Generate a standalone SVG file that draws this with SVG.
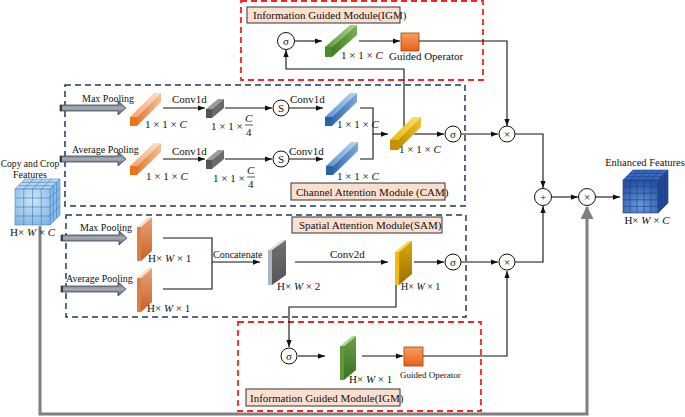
<svg xmlns="http://www.w3.org/2000/svg" width="685" height="417" viewBox="0 0 685 417">
<defs>
<style>
text{font-family:"Liberation Serif","Times New Roman",serif;fill:#111;}
.t10{font-size:10px;}
.t11{font-size:11px;}
.t9{font-size:9px;}
.m{font-size:11px;}
.i{font-style:italic;}
.ln{fill:none;stroke:#111;stroke-width:1.1;}
.arr{fill:none;stroke:#111;stroke-width:1.1;marker-end:url(#ah);}
.circ{fill:#fff;stroke:#111;stroke-width:1;}
.navy{fill:none;stroke:#1f3a60;stroke-width:1.5;stroke-dasharray:6,4;}
.red{fill:none;stroke:#ff2020;stroke-width:1.8;stroke-dasharray:6,4;}
.lbl{fill:#fbe0cf;stroke:#333;stroke-width:1;}
.grid{stroke:#3a78c0;stroke-width:0.6;fill:none;}
.grid2{stroke:#1c3f80;stroke-width:0.6;fill:none;}
</style>
<marker id="ah" viewBox="0 0 8 6" refX="8" refY="3" markerWidth="7" markerHeight="5.5" markerUnits="userSpaceOnUse" orient="auto">
<path d="M0,0 L8,3 L0,6 z" fill="#111"/>
</marker>
<marker id="gh" viewBox="0 0 12 12" refX="11" refY="6" markerWidth="14" markerHeight="13" markerUnits="userSpaceOnUse" orient="auto">
<path d="M0,0 L12,6 L0,12 z" fill="#7f7f7f"/>
</marker>
<linearGradient id="pool" x1="0" y1="0" x2="0" y2="1">
<stop offset="0" stop-color="#4a5566"/>
<stop offset="0.5" stop-color="#a8adb4"/>
<stop offset="1" stop-color="#4a5566"/>
</linearGradient>
<linearGradient id="orTop" x1="0" y1="1" x2="1" y2="0"><stop offset="0" stop-color="#f2a46a"/><stop offset="1" stop-color="#fbe2d0"/></linearGradient>
<linearGradient id="orSide" x1="0" y1="0" x2="1" y2="0"><stop offset="0" stop-color="#e07a30"/><stop offset="1" stop-color="#f5c09a"/></linearGradient>
<linearGradient id="blTop" x1="0" y1="1" x2="1" y2="0"><stop offset="0" stop-color="#5b95d0"/><stop offset="1" stop-color="#b8d4ee"/></linearGradient>
<linearGradient id="blSide" x1="0" y1="0" x2="1" y2="0"><stop offset="0" stop-color="#2f6aae"/><stop offset="1" stop-color="#7ea8d8"/></linearGradient>
<linearGradient id="ylTop" x1="0" y1="1" x2="1" y2="0"><stop offset="0" stop-color="#e8b800"/><stop offset="1" stop-color="#f8e070"/></linearGradient>
<linearGradient id="ylSide" x1="0" y1="0" x2="1" y2="0"><stop offset="0" stop-color="#c09000"/><stop offset="1" stop-color="#e8c030"/></linearGradient>
<linearGradient id="gnTop" x1="0" y1="1" x2="1" y2="0"><stop offset="0" stop-color="#5c9a38"/><stop offset="1" stop-color="#a8d488"/></linearGradient>
<linearGradient id="gnSide" x1="0" y1="0" x2="1" y2="0"><stop offset="0" stop-color="#3f7a25"/><stop offset="1" stop-color="#78b055"/></linearGradient>
<linearGradient id="orPlate" x1="0" y1="0" x2="0" y2="1"><stop offset="0" stop-color="#e8a478"/><stop offset="1" stop-color="#c8602a"/></linearGradient>
<linearGradient id="gyPlate" x1="0" y1="0" x2="0" y2="1"><stop offset="0" stop-color="#707070"/><stop offset="1" stop-color="#555"/></linearGradient>
<linearGradient id="ylPlate" x1="0" y1="0" x2="0" y2="1"><stop offset="0" stop-color="#d8a810"/><stop offset="1" stop-color="#9a7000"/></linearGradient>
<linearGradient id="gnPlate" x1="0" y1="0" x2="0" y2="1"><stop offset="0" stop-color="#6aa048"/><stop offset="1" stop-color="#3c7024"/></linearGradient>
<linearGradient id="goOp" x1="0" y1="0" x2="0" y2="1"><stop offset="0" stop-color="#f6a060"/><stop offset="1" stop-color="#e86018"/></linearGradient>
<radialGradient id="cubeL" cx="0.5" cy="0.3" r="0.8"><stop offset="0" stop-color="#cfe5f7"/><stop offset="1" stop-color="#7fb4e2"/></radialGradient>
<radialGradient id="cubeD" cx="0.5" cy="0.8" r="0.8"><stop offset="0" stop-color="#6a9ae0"/><stop offset="1" stop-color="#2650a0"/></radialGradient>
</defs>

<g id="boxes">
<rect class="red" x="241" y="1" width="242" height="79"/>
<rect class="navy" x="65" y="85" width="400" height="121"/>
<rect class="navy" x="66" y="215" width="400" height="102"/>
<rect class="red" x="238" y="322" width="243" height="89"/>
</g>

<g id="labels">
<rect class="lbl" x="247" y="7" width="153" height="16"/>
<text class="t11" x="253" y="19">Information Guided Module(IGM)</text>
<rect class="lbl" x="291" y="183" width="154" height="17"/>
<text class="t11" x="296" y="195.5">Channel Attention Module (CAM)</text>
<rect class="lbl" x="292" y="217" width="150" height="16"/>
<text class="t11" x="299" y="229">Spatial Attention Module(SAM)</text>
<rect class="lbl" x="246" y="389" width="154" height="17"/>
<text class="t11" x="250" y="401.5">Information Guided Module(IGM)</text>
</g>

<g id="connectors">
<polyline class="arr" points="295,41 322,41"/>
<polyline class="arr" points="359,41 400,41"/>
<polyline class="arr" points="419,41 507,41 507,126"/>
<polyline class="arr" points="404,128 404,69 286,69 286,50"/>
<polyline class="arr" points="163,108 205,108"/>
<polyline class="arr" points="225,108 272,108"/>
<polyline class="arr" points="289,108 323,108"/>
<polyline class="arr" points="163,159 205,159"/>
<polyline class="arr" points="225,159 272,159"/>
<polyline class="arr" points="289,159 323,159"/>
<polyline class="ln" points="360,108 373,108 373,159 360,159"/>
<polyline class="arr" points="373,134 388,134"/>
<polyline class="arr" points="414,134 444,134"/>
<polyline class="arr" points="461,134 498,134"/>
<polyline class="arr" points="515,134 543,134 543,188"/>
<polyline class="arr" points="551,197 578,197"/>
<polyline class="arr" points="595,197 620,197"/>
<polyline class="ln" points="163,238 212,238 212,289 163,289"/>
<polyline class="arr" points="212,262 260,262"/>
<polyline class="arr" points="295,262 388,262"/>
<polyline class="arr" points="414,262 444,262"/>
<polyline class="arr" points="461,262 498,262"/>
<polyline class="arr" points="515,262 543,262 543,206"/>
<polyline class="arr" points="396,285 396,307 289,307 289,347"/>
<polyline class="arr" points="298,356 325,356"/>
<polyline class="arr" points="362,356 403,356"/>
<polyline class="arr" points="423,356 507,356 507,271"/>
<polyline points="40,226 40,414 587,414 587,207" fill="none" stroke="#7f7f7f" stroke-width="3" marker-end="url(#gh)"/>
</g>

<g id="pool-arrows">
<path d="M60,105 H118 V101 L126,108 L118,115 V111 H60 Z" fill="url(#pool)" stroke="#3a4658" stroke-width="0.8"/>
<rect x="60" y="105" width="2" height="6" fill="#2f3a4c"/>
<text class="t10" x="82" y="102">Max Pooling</text>
<path d="M60,156 H118 V152 L126,159 L118,166 V162 H60 Z" fill="url(#pool)" stroke="#3a4658" stroke-width="0.8"/>
<rect x="60" y="156" width="2" height="6" fill="#2f3a4c"/>
<text class="t10" x="72" y="153">Average Pooling</text>
<path d="M61,235 H119 V231 L127,238 L119,245 V241 H61 Z" fill="url(#pool)" stroke="#3a4658" stroke-width="0.8"/>
<rect x="61" y="235" width="2" height="6" fill="#2f3a4c"/>
<text class="t10" x="80" y="231">Max Pooling</text>
<path d="M61,286 H118 V282 L126,289 L118,296 V292 H61 Z" fill="url(#pool)" stroke="#3a4658" stroke-width="0.8"/>
<rect x="61" y="286" width="2" height="6" fill="#2f3a4c"/>
<text class="t10" x="66" y="282">Average Pooling</text>
</g>

<g id="copy-crop">
<text x="30" y="167" text-anchor="middle" style="font-size:9.6px">Copy and Crop</text>
<text class="t10" x="30" y="178" text-anchor="middle">Features</text>
<polygon points="15,189 50,189 60,179 25,179" fill="#b8d6f2" stroke="#4a88c8" stroke-width="0.6"/>
<polygon points="50,189 60,179 60,215 50,225" fill="#8abce6" stroke="#4a88c8" stroke-width="0.6"/>
<rect x="15" y="189" width="35" height="36" fill="url(#cubeL)" stroke="#4a88c8" stroke-width="0.6"/>
<path class="grid" d="M23.75,189V225M32.5,189V225M41.25,189V225M15,198H50M15,207H50M15,216H50"/>
<path class="grid" d="M18.3,185.7H53.3M21.7,182.3H56.7M23.75,189L33.75,179M32.5,189L42.5,179M41.25,189L51.25,179"/>
<path class="grid" d="M53.3,185.7V221.7M56.7,182.3V218.3M50,198L60,188M50,207L60,197M50,216L60,206"/>
<text class="t11" x="10" y="236">H× <tspan class="i">W</tspan> × <tspan class="i">C</tspan></text>
</g>

<g id="cam-bars">
<polygon points="130,117 137,117 161,93 154,93" fill="url(#orTop)"/>
<polygon points="137,117 161,93 161,102 137,126" fill="url(#orSide)"/>
<rect x="130" y="117" width="7" height="9" fill="#e8741c"/>
<text class="m" x="145" y="128">1 × 1 × <tspan class="i">C</tspan></text>
<polygon points="130,166 137,166 161,143 154,143" fill="url(#orTop)"/>
<polygon points="137,166 161,143 161,152 137,175" fill="url(#orSide)"/>
<rect x="130" y="166" width="7" height="9" fill="#e8741c"/>
<text class="m" x="146" y="180">1 × 1 × <tspan class="i">C</tspan></text>
<text class="t11" x="172" y="103">Conv1d</text>
<text class="t11" x="172" y="155">Conv1d</text>

<polygon points="206,109 212,109 224,99 218,99" fill="#9a9a9a"/>
<polygon points="212,109 224,99 224,108 212,118" fill="#6a6a6a"/>
<rect x="206" y="109" width="6" height="9" fill="#555"/>
<text class="m" x="211" y="130">1 × 1 ×</text>
<text class="m i" x="245" y="122">C</text>
<line x1="245" y1="125" x2="253" y2="125" stroke="#111" stroke-width="0.7"/>
<text class="m" x="246" y="136">4</text>
<polygon points="206,160 212,160 224,150 218,150" fill="#9a9a9a"/>
<polygon points="212,160 224,150 224,159 212,169" fill="#6a6a6a"/>
<rect x="206" y="160" width="6" height="9" fill="#555"/>
<text class="m" x="213" y="182">1 × 1 ×</text>
<text class="m i" x="247" y="174">C</text>
<line x1="247" y1="177" x2="255" y2="177" stroke="#111" stroke-width="0.7"/>
<text class="m" x="248" y="188">4</text>

<text class="t11" x="290" y="103">Conv1d</text>
<text class="t11" x="289" y="155">Conv1d</text>
<polygon points="325,117 332,117 357,93 350,93" fill="url(#blTop)"/>
<polygon points="332,117 357,93 357,102 332,126" fill="url(#blSide)"/>
<rect x="325" y="117" width="7" height="9" fill="#2a62a8"/>
<text class="m" x="337" y="128">1 × 1 × <tspan class="i">C</tspan></text>
<polygon points="326,166 333,166 358,142 351,142" fill="url(#blTop)"/>
<polygon points="333,166 358,142 358,151 333,175" fill="url(#blSide)"/>
<rect x="326" y="166" width="7" height="9" fill="#2a62a8"/>
<text class="m" x="337" y="180">1 × 1 × <tspan class="i">C</tspan></text>

<polygon points="390,140 398,140 421,117 413,117" fill="url(#ylTop)"/>
<polygon points="398,140 421,117 421,127 398,150" fill="url(#ylSide)"/>
<rect x="390" y="140" width="8" height="10" fill="#c49400"/>
<text class="m" x="399" y="153">1 × 1 × <tspan class="i">C</tspan></text>
</g>

<g id="igm-top">
<polygon points="325,47 332,47 357,25 350,25" fill="url(#gnTop)"/>
<polygon points="332,47 357,25 357,35 332,57" fill="url(#gnSide)"/>
<rect x="325" y="47" width="7" height="10" fill="#4a8a2c"/>
<text class="m" x="341" y="59">1 × 1 × <tspan class="i">C</tspan></text>
<rect x="401" y="33" width="18" height="18" fill="url(#goOp)" stroke="#a04010" stroke-width="0.8"/>
<text class="t11" x="389" y="60">Guided Operator</text>
</g>

<g id="sam-plates">
<polygon points="137,227 141,227 152,217 148,217" fill="#f6e0d0"/>
<polygon points="141,227 152,217 152,251 141,261" fill="url(#orPlate)"/>
<rect x="137" y="227" width="4" height="34" fill="#d88048"/>
<text class="m" x="148" y="262">H× <tspan class="i">W</tspan> × 1</text>
<polygon points="137,278 141,278 152,268 148,268" fill="#f6e0d0"/>
<polygon points="141,278 152,268 152,302 141,312" fill="url(#orPlate)"/>
<rect x="137" y="278" width="4" height="34" fill="#d88048"/>
<text class="m" x="147" y="312">H× <tspan class="i">W</tspan> × 1</text>
<text class="t10" x="213" y="258">Concatenate</text>

<polygon points="268,250 272,250 286,240 282,240" fill="#d8e0ec"/>
<polygon points="272,250 286,240 286,275 272,285" fill="url(#gyPlate)"/>
<rect x="268" y="250" width="4" height="35" fill="#aab4c4"/>
<text class="m" x="277" y="290">H× <tspan class="i">W</tspan> × 2</text>
<text class="t11" x="330" y="258">Conv2d</text>

<polygon points="395,252 399,252 412,241 408,241" fill="#f4d860"/>
<polygon points="399,252 412,241 412,274 399,285" fill="url(#ylPlate)"/>
<rect x="395" y="252" width="4" height="33" fill="#f0c000"/>
<text class="t10" x="401" y="290">H× <tspan class="i">W</tspan> × 1</text>
</g>

<g id="igm-bottom">
<polygon points="340,346 344,346 356,336 352,336" fill="#b8dca0"/>
<polygon points="344,346 356,336 356,370 344,380" fill="url(#gnPlate)"/>
<rect x="340" y="346" width="4" height="34" fill="#5a9a3a"/>
<text class="m" x="349" y="383">H× <tspan class="i">W</tspan> × 1</text>
<rect x="404" y="347" width="19" height="19" fill="url(#goOp)" stroke="#a04010" stroke-width="0.8"/>
<text class="t9" x="400" y="378">Guided Operator</text>
</g>

<g id="operators">
<circle class="circ" cx="286" cy="41" r="8.5"/><text class="t11" x="286" y="44.5" text-anchor="middle">σ</text>
<circle class="circ" cx="281" cy="108" r="8"/><text class="t11" x="281" y="112" text-anchor="middle">S</text>
<circle class="circ" cx="281" cy="159" r="8"/><text class="t11" x="281" y="163" text-anchor="middle">S</text>
<circle class="circ" cx="453" cy="134" r="8"/><text class="t11" x="453" y="137.5" text-anchor="middle">σ</text>
<circle class="circ" cx="507" cy="134" r="8"/><text class="t11" x="507" y="138" text-anchor="middle">×</text>
<circle class="circ" cx="543" cy="197" r="8.5"/><text class="t11" x="543" y="201" text-anchor="middle">+</text>
<circle class="circ" cx="587" cy="197" r="8.5"/><text class="t11" x="587" y="201" text-anchor="middle">×</text>
<circle class="circ" cx="453" cy="262" r="8"/><text class="t11" x="453" y="265.5" text-anchor="middle">σ</text>
<circle class="circ" cx="507" cy="262" r="8"/><text class="t11" x="507" y="266" text-anchor="middle">×</text>
<circle class="circ" cx="289" cy="356" r="8"/><text class="t11" x="289" y="359.5" text-anchor="middle">σ</text>
</g>

<g id="enhanced">
<text x="645" y="166" text-anchor="middle" style="font-size:10.5px">Enhanced Features</text>
<polygon points="623,180 658,180 668,170 633,170" fill="#3a6ac0" stroke="#1c3f80" stroke-width="0.6"/>
<polygon points="658,180 668,170 668,203 658,213" fill="#24489a" stroke="#1c3f80" stroke-width="0.6"/>
<rect x="623" y="180" width="35" height="33" fill="url(#cubeD)" stroke="#1c3f80" stroke-width="0.6"/>
<path class="grid2" d="M630,180V213M637,180V213M644,180V213M651,180V213M623,186.6H658M623,193.2H658M623,199.8H658M623,206.4H658"/>
<path class="grid2" d="M626.3,176.7H661.3M629.7,173.3H664.7M630,180L640,170M637,180L647,170M644,180L654,170M651,180L661,170"/>
<path class="grid2" d="M661.3,176.7V209.7M664.7,173.3V206.3M658,186.6L668,176.6M658,193.2L668,183.2M658,199.8L668,189.8M658,206.4L668,196.4"/>
<text class="t11" x="647" y="224" text-anchor="middle">H× <tspan class="i">W</tspan> × <tspan class="i">C</tspan></text>
</g>
</svg>
